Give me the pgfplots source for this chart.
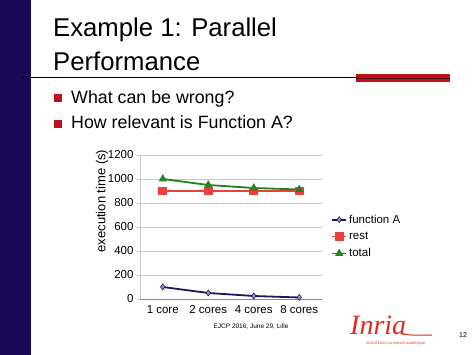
\documentclass[border=0pt]{standalone}
\usepackage{pgfplots}
\pgfplotsset{compat=1.18}
\usepackage{fontspec}
\setmainfont{Liberation Sans}
\newfontfamily\logofont{Liberation Serif}
\definecolor{navybar}{RGB}{24,10,84}
\definecolor{slidered}{RGB}{192,16,28}
\definecolor{fa}{RGB}{28,24,92}
\definecolor{fafill}{RGB}{150,145,210}
\definecolor{rest}{RGB}{235,64,60}
\definecolor{total}{RGB}{30,130,30}
\definecolor{gridc}{RGB}{200,200,200}
\definecolor{inria}{RGB}{228,40,30}
\begin{document}
\begin{tikzpicture}[x=1pt,y=1pt]
\fill[white] (0,0) rectangle (474,355);
\fill[navybar] (0,0) rectangle (31,355);
% title
\node[anchor=base west,inner sep=0pt,font=\fontsize{25.7}{30}\selectfont] at (53,355-36.7) {Example 1: Parallel};
\node[anchor=base west,inner sep=0pt,font=\fontsize{25.7}{30}\selectfont] at (53,355-70.7) {Performance};
\draw[black,line width=0.8pt] (22,355-77.3) -- (356,355-77.3);
\fill[slidered] (356,355-82.3) rectangle (450,355-74);
\draw[black!60!slidered,line width=0.8pt] (356,355-78.2) -- (450,355-78.2);
% bullets
\fill[slidered] (54,355-102.5) rectangle (62,355-94.5);
\node[anchor=base west,inner sep=0pt,font=\fontsize{17.8}{21}\selectfont] at (71,355-103.3) {What can be wrong?};
\fill[slidered] (54,355-128.2) rectangle (62,355-120.2);
\node[anchor=base west,inner sep=0pt,font=\fontsize{17.8}{21}\selectfont] at (71,355-129) {How relevant is Function A?};
% footer
\node[anchor=base,inner sep=0pt,font=\fontsize{6.5}{8}\selectfont] at (251,355-329) {EJCP 2016, June 29, Lille};
\node[anchor=base,inner sep=0pt,font=\fontsize{7}{8}\selectfont] at (463,355-338) {12};
\node[anchor=base west,inner sep=0pt,text=inria,font=\logofont\itshape\fontsize{28}{30}\selectfont] at (350,355-335) {Inria};
\draw[inria,line width=1pt] (402,355-334) .. controls (415,355-336) and (425,355-335) .. (432,355-335);
\node[anchor=base west,inner sep=0pt,text=inria,font=\fontsize{3.2}{4}\selectfont] at (366,355-345) {INVENTEURS DU MONDE NUMÉRIQUE};
\begin{axis}[
  at={(140pt,56pt)}, anchor=south west,
  width=182pt, height=144pt, scale only axis,
  xmin=-0.5, xmax=3.5, ymin=0, ymax=1200,
  ytick={0,200,...,1200},
  xtick={0,1,2,3},
  xticklabels={1 core,2 cores,4 cores,8 cores},
  major x tick style={draw=none},
  extra x ticks={-0.5,0.5,1.5,2.5,3.5},
  extra x tick labels={},
  extra x tick style={major tick length=4pt, tick align=outside, tick style={gridc!70!black}, grid=none},
  axis x line*=bottom, axis y line*=left,
  x axis line style={gridc!70!black,-},
  y axis line style={gridc,-},
  ymajorgrids, grid style={gridc, line width=0.5pt},
  major y tick style={gridc}, tick align=outside, major tick length=3pt,
  tick label style={font=\fontsize{11.5}{13}\selectfont},
  /pgf/number format/assume math mode=true,
  /pgf/number format/1000 sep={},
  ylabel={execution time (s)},
  ylabel style={font=\fontsize{13}{15}\selectfont, at={(axis description cs:-0.209,0.68)}, anchor=center},
  legend style={draw=none, fill=none, at={(axis description cs:1.05,0.6)}, anchor=north west,
    font=\fontsize{11.5}{13}\selectfont, inner sep=0pt, row sep=3.5pt, cells={anchor=west}},
  legend cell align=left,
  legend image code/.code={\draw[#1,mark=none] (0pt,0pt) -- (14pt,0pt); \draw[#1] plot coordinates {(7pt,0pt)};},
  clip=false,
]
\addplot[fa, line width=1.8pt, mark=diamond*, mark size=3pt, mark options={fill=fafill, draw=fa, line width=0.6pt}]
  coordinates {(0,100) (1,50) (2,25) (3,12.5)};
\addlegendentry{function A}
\addplot[rest, line width=1.8pt, mark=square*, mark size=3.5pt, mark options={fill=rest, draw=rest}]
  coordinates {(0,900) (1,900) (2,900) (3,900)};
\addlegendentry{rest}
\addplot[total, line width=1.8pt, mark=triangle*, mark size=3pt, mark options={fill=total!80!white, draw=total}]
  coordinates {(0,1000) (1,950) (2,925) (3,912.5)};
\addlegendentry{total}
\end{axis}
\pgfresetboundingbox
\path[use as bounding box] (0,0) rectangle (474,355);
\end{tikzpicture}
\end{document}
